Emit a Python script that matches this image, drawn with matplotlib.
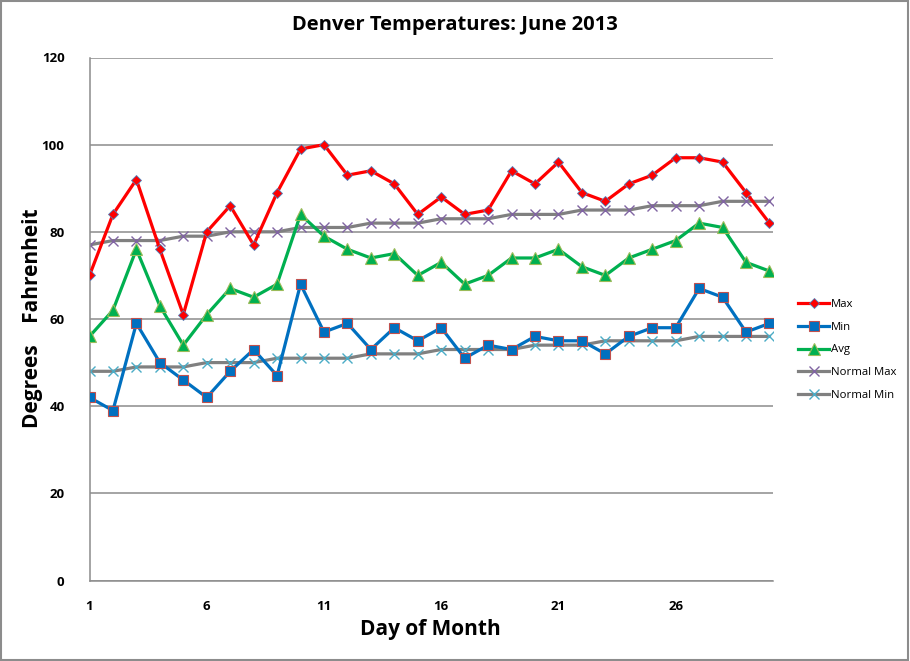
import numpy as np
import matplotlib.pyplot as plt
from matplotlib.patches import Rectangle

# Datos
days = list(range(1, 31))
max_temp = [70, 84, 92, 76, 61, 80, 86, 77, 89, 99, 100, 93, 94, 91, 84,
            88, 84, 85, 94, 91, 96, 89, 87, 91, 93, 97, 97, 96, 89, 82]
min_temp = [42, 39, 59, 50, 46, 42, 48, 53, 47, 68, 57, 59, 53, 58, 55,
            58, 51, 54, 53, 56, 55, 55, 52, 56, 58, 58, 67, 65, 57, 59]
avg_temp = [56, 62, 76, 63, 54, 61, 67, 65, 68, 84, 79, 76, 74, 75, 70,
            73, 68, 70, 74, 74, 76, 72, 70, 74, 76, 78, 82, 81, 73, 71]
normal_max = [77, 78, 78, 78, 79, 79, 80, 80, 80, 81, 81, 81, 82, 82, 82,
              83, 83, 83, 84, 84, 84, 85, 85, 85, 86, 86, 86, 87, 87, 87]
normal_min = [48, 48, 49, 49, 49, 50, 50, 50, 51, 51, 51, 51, 52, 52, 52,
              53, 53, 53, 53, 54, 54, 54, 55, 55, 55, 55, 56, 56, 56, 56]
x_ticks = [1, 6, 11, 16, 21, 26]
y_ticks = [0, 20, 40, 60, 80, 100, 120]

plt.rcParams['font.family'] = ['Open Sans', 'DejaVu Sans']

fig = plt.figure(figsize=(9.1, 6.61), dpi=100)
ax = fig.add_axes([89.5 / 910, 1 - 580.5 / 661, (773 - 89.5) / 910, (580.5 - 57.5) / 661])

# Borde de la figura
fig.patches.append(Rectangle((0.001, 0.001), 0.997, 0.997, transform=fig.transFigure,
                             fill=False, edgecolor='#8c8c8c', linewidth=1.5))

lw = 2.3
ax.plot(days, normal_max, color='#808080', lw=lw, marker='x', ms=7,
        mec='#8064A2', mew=1.0, label='Normal Max', zorder=2)
ax.plot(days, normal_min, color='#808080', lw=lw, marker='x', ms=7,
        mec='#4BACC6', mew=1.0, label='Normal Min', zorder=2)
ax.plot(days, max_temp, color='#FF0000', lw=lw, marker='D', ms=5.5,
        mfc='#FF0000', mec='#4F81BD', mew=0.6, label='Max', zorder=4)
ax.plot(days, min_temp, color='#0070C0', lw=lw, marker='s', ms=7,
        mfc='#0070C0', mec='#C0504D', mew=0.8, label='Min', zorder=4)
ax.plot(days, avg_temp, color='#00B050', lw=lw, marker='^', ms=8,
        mfc='#00B050', mec='#9BBB59', mew=0.8, label='Avg', zorder=3)

ax.set_xlim(1, 30.15)
ax.set_ylim(0, 120)
ax.set_xticks(x_ticks)
ax.set_yticks(y_ticks)
ax.tick_params(length=0, labelsize=9.5, pad=14)
ax.tick_params(axis='y', pad=18)
for lab in ax.get_xticklabels() + ax.get_yticklabels():
    lab.set_fontweight('bold')

ax.grid(axis='y', color='#8c8c8c', lw=1.1)
ax.set_axisbelow(True)
for s in ['top', 'right']:
    ax.spines[s].set_visible(False)
for s in ['left', 'bottom']:
    ax.spines[s].set_color('#8c8c8c')
    ax.spines[s].set_linewidth(1.1)

fig.text(455 / 910, 1 - 25 / 661, 'Denver Temperatures: June 2013', ha='center', va='center',
         fontsize=14.5, fontweight='bold')
fig.text(33 / 910, 1 - 318 / 661, 'Degrees    Fahrenheit', ha='center', va='center',
         rotation=90, fontsize=15, fontweight='bold')
fig.text(430 / 910, 1 - 630 / 661, 'Day of Month', ha='center', va='center',
         fontsize=15, fontweight='bold')

handles, labels = ax.get_legend_handles_labels()
order = [2, 3, 4, 0, 1]
fig.legend([handles[i] for i in order], [labels[i] for i in order],
           loc='center left', bbox_to_anchor=(788 / 910, 1 - 350 / 661),
           frameon=False, fontsize=8.2, handlelength=2.7, labelspacing=1.05,
           handletextpad=0.15)

fig.savefig('out.png', dpi=100)
